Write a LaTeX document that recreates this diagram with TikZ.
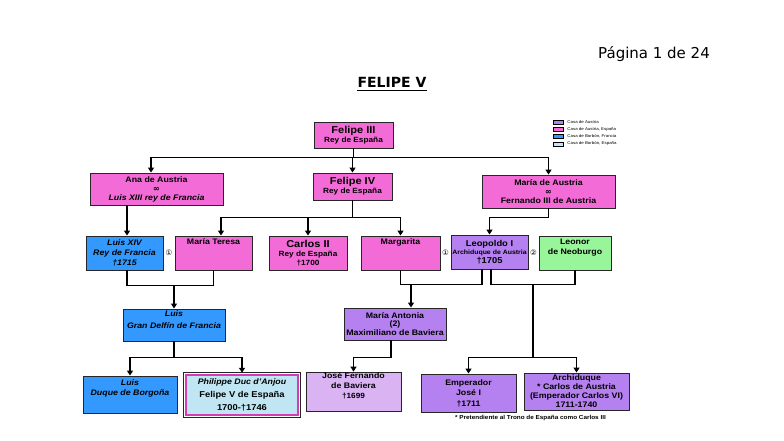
\documentclass[tikz,border=0pt]{standalone}
\usepackage{fontspec}
\setmainfont{Liberation Sans}[FakeStretch=1.1]
\newfontfamily\headfont{DejaVu Sans}
\newfontfamily\symfont{DejaVu Sans}
\usetikzlibrary{arrows.meta,calc,positioning}

\definecolor{casaaustria}{HTML}{B580F0}
\definecolor{austriaesp}{HTML}{F26BD6}
\definecolor{borbonfra}{HTML}{3399FF}
\definecolor{borbonesp}{HTML}{BFE6F2}
\definecolor{baviera}{HTML}{D9B3F2}
\definecolor{neoburgo}{HTML}{99F599}
\definecolor{marcorosa}{HTML}{D43CB4}

\begin{document}
\begin{tikzpicture}[
  x=1pt,
  y=-1pt,
  famnode/.style={
    draw=black!85,
    line width=0.9pt,
    inner sep=1pt,
    align=center,
    font=\bfseries\fontsize{8}{9}\selectfont
  },
  toplabel/.style={
    anchor=north,
    inner sep=#1,
    align=center,
    font=\bfseries\fontsize{8}{9}\selectfont
  },
  link/.style={
    draw=black,
    line width=1.3pt,
    line cap=rect
  },
  descent/.style={
    link,
    -{Triangle[width=6pt,length=5pt]}
  },
  wedmark/.style={
    inner sep=0pt,
    font=\symfont\fontsize{7.5}{7.5}\selectfont
  },
  legbox/.style={
    draw=black,
    line width=0.5pt,
    minimum width=10,
    minimum height=4,
    inner sep=0pt
  },
  legtext/.style={
    inner sep=0pt,
    font=\fontsize{4}{4}\selectfont
  }
]

\useasboundingbox (0,0) rectangle (784,441);

\newcommand{\headname}[1]{{\fontsize{10}{10}\selectfont #1}}
\newcommand{\smallline}[1]{{\fontsize{7.5}{9}\selectfont #1}}

\node[font=\headfont\fontsize{15}{15}\selectfont, anchor=base east, inner sep=0pt] (pagina) at (710,59) {Página 1 de 24};
\node[font=\headfont\bfseries\fontsize{14}{14}\selectfont, anchor=base, inner sep=0pt] (titulo) at (392,88) {FELIPE V};
\draw[line width=1.1pt] ([yshift=-2.5pt]titulo.base west) -- ([yshift=-2.5pt]titulo.base east);

\foreach \col/\txt [count=\i from 0] in {casaaustria/Casa de Austria, austriaesp/{Casa de Austria, España}, borbonfra/{Casa de Borbón, Francia}, borbonesp/{Casa de Borbón, España}} {
  \node[legbox, fill=\col] (legbox\i) at (558,122+7.3*\i) {};
  \node[legtext, right=4pt of legbox\i] (legtext\i) {\txt};
}

\node[famnode, fill=austriaesp, minimum width=79, minimum height=26] (felipeiii) at (353.5,135) {\headname{Felipe III}\\\smallline{Rey de España}};

\node[famnode, fill=austriaesp, minimum width=133, minimum height=32] (ana) at (156.5,189) {Ana de Austria\\{\symfont ∞}\\\textit{Luis XIII rey de Francia}};
\node[famnode, fill=austriaesp, minimum width=79, minimum height=27] (felipeiv) at (352.5,186.5) {\headname{Felipe IV}\\\smallline{Rey de España}};
\node[famnode, fill=austriaesp, minimum width=133, minimum height=33] (mariaaus) at (548.5,191.5) {María de Austria\\{\symfont ∞}\\Fernando III de Austria};

\node[famnode, fill=borbonfra, minimum width=77, minimum height=34, font=\bfseries\itshape\fontsize{8}{10}\selectfont] (luisxiv) at (124.5,253) {Luis XIV\\Rey de Francia\\†1715};
\node[famnode, fill=austriaesp, minimum width=77, minimum height=34, label={[toplabel=3pt]north:María Teresa}] (mariateresa) at (213.5,253) {};
\node[famnode, fill=austriaesp, minimum width=78, minimum height=34] (carlosii) at (308,253) {\headname{Carlos II}\\\smallline{Rey de España}\\\smallline{†1700}};
\node[famnode, fill=austriaesp, minimum width=79, minimum height=34, label={[toplabel=3pt]north:Margarita}] (margarita) at (400.5,253) {};
\node[famnode, fill=casaaustria, minimum width=77, minimum height=34, font=\bfseries\fontsize{8.5}{8.5}\selectfont] (leopoldo) at (489.5,252) {Leopoldo I\\{\fontsize{6.3}{8}\selectfont Archiduque de Austria}\\†1705};
\node[famnode, fill=neoburgo, minimum width=72, minimum height=34, font=\bfseries\fontsize{8}{10}\selectfont] (leonor) at (575,253) {Leonor\\de Neoburgo\\[3pt]};

\node[wedmark] (boda1) at ($(luisxiv.east)!.5!(mariateresa.west)$) {①};
\node[wedmark] (boda2) at ($(margarita.east)!.5!(leopoldo.west)$) {①};
\node[wedmark] (boda3) at ($(leopoldo.east)!.5!(leonor.west)$) {②};

\node[famnode, fill=borbonfra, minimum width=102, minimum height=32, label={[toplabel=1.5pt, font=\bfseries\itshape\fontsize{8}{12}\selectfont]north:{Luis\\Gran Delfín de Francia}}] (luisgd) at (174,325) {};
\node[famnode, fill=casaaustria, minimum width=102, minimum height=32, font=\bfseries\fontsize{8}{8.5}\selectfont] (mariaantonia) at (395,324) {María Antonia\\(2)\\Maximiliano de Baviera};

\node[famnode, fill=borbonfra, minimum width=94, minimum height=37, label={[toplabel=3.5pt, font=\bfseries\itshape\fontsize{8}{10}\selectfont]north:{Luis\\Duque de Borgoña}}] (luisdq) at (130,394.5) {};
\node[famnode, draw=marcorosa, line width=1.3pt, fill=borbonesp, minimum width=112, minimum height=40, font=\bfseries\fontsize{8.5}{13}\selectfont] (philippe) at (242,395) {\textit{\fontsize{8}{13}\selectfont Philippe Duc d'Anjou}\\Felipe V de España\\1700-†1746};
\draw[draw=black!85, line width=0.9pt] ([shift={(-1.6pt,1.6pt)}]philippe.north west) rectangle ([shift={(1.6pt,-1.6pt)}]philippe.south east);
\node[famnode, fill=baviera, minimum width=95, minimum height=38, font=\bfseries\fontsize{8}{10}\selectfont] (josefer) at (353.5,392) {José Fernando\\de Baviera\\\smallline{†1699}\\[2pt]};
\node[famnode, fill=casaaustria, minimum width=95, minimum height=38, font=\bfseries\fontsize{8}{10.5}\selectfont] (josei) at (468.5,393) {Emperador\\José I\\†1711};
\node[famnode, fill=casaaustria, minimum width=105, minimum height=37] (archi) at (576.5,391.5) {Archiduque\\* Carlos de Austria\\(Emperador Carlos VI)\\1711-1740};

\node[inner sep=0pt, anchor=west, font=\bfseries\fontsize{5.8}{6}\selectfont] (nota) at (455,418) {* Pretendiente al Trono de España como Carlos III};

\draw[link] (felipeiii.south) -- ++(0,9) coordinate (bar1);
\draw[link] ([xshift=-5.5pt]ana.north |- bar1) -- (bar1 -| mariaaus.north);
\draw[descent] ([xshift=-5.5pt]ana.north |- bar1) -- ([xshift=-5.5pt]ana.north);
\draw[descent] (bar1 -| felipeiv.north) -- (felipeiv.north);
\draw[descent] (bar1 -| mariaaus.north) -- (mariaaus.north);

\draw[descent] ([xshift=2.5pt]luisxiv.north |- ana.south) -- ([xshift=2.5pt]luisxiv.north);

\draw[link] (felipeiv.south) -- ++(0,17) coordinate (bar2);
\draw[link] ([xshift=7.5pt]mariateresa.north |- bar2) -- (bar2 -| margarita.north);
\draw[descent] ([xshift=7.5pt]mariateresa.north |- bar2) -- ([xshift=7.5pt]mariateresa.north);
\draw[descent] (bar2 -| carlosii.north) -- (carlosii.north);
\draw[descent] (bar2 -| margarita.north) -- (margarita.north);

\draw[descent] (mariaaus.south) -- (mariaaus.south |- bar2) -- (leopoldo.north |- bar2) -- (leopoldo.north);

\draw[link] ([xshift=2.5pt]luisxiv.south) -- ++(0,15) coordinate (bar3) -- (bar3 -| mariateresa.south) -- (mariateresa.south);
\draw[descent] (bar3 -| luisgd.north) -- (luisgd.north);

\draw[link] (luisgd.south) -- ++(0,16) coordinate (bar4);
\draw[link] (bar4 -| luisdq.north) -- (bar4 -| philippe.north);
\draw[descent] (bar4 -| luisdq.north) -- (luisdq.north);
\draw[descent] (bar4 -| philippe.north) -- ([yshift=1.6pt]philippe.north);

\draw[link] (margarita.south) -- ++(0,14) coordinate (bar5) -- ([xshift=-7.5pt]leopoldo.south |- bar5) -- ([xshift=-7.5pt]leopoldo.south);
\draw[descent] ([xshift=16pt]mariaantonia.north |- bar5) -- ([xshift=16pt]mariaantonia.north);

\draw[descent] ([xshift=-4pt]mariaantonia.south) -- ([xshift=-4pt]mariaantonia.south |- bar4) -- (josefer.north |- bar4) -- (josefer.north);

\draw[link] ([xshift=1.5pt]leopoldo.south) -- ([xshift=1.5pt]leopoldo.south |- bar5) coordinate (bar6) -- (bar6 -| leonor.south) -- (leonor.south);
\coordinate (bar7) at ($(bar6)!.5!(bar6 -| leonor.south)$);
\draw[link] (bar7) -- (bar7 |- bar4);
\draw[link] (bar4 -| josei.north) -- (bar4 -| archi.north);
\draw[descent] (bar4 -| josei.north) -- (josei.north);
\draw[descent] (bar4 -| archi.north) -- (archi.north);

\end{tikzpicture}
\end{document}
